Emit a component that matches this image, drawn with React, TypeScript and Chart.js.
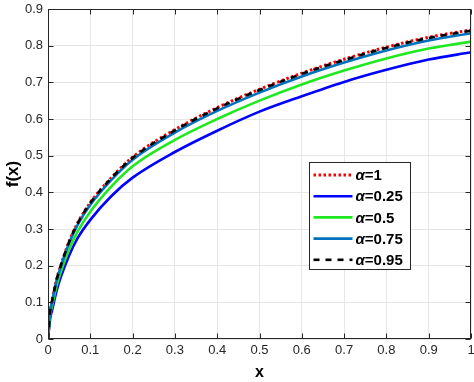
import React, { useEffect, useRef } from "react";
import { Chart, registerables } from "chart.js";
Chart.register(...registerables);

const xValues = [0, 0.005, 0.01, 0.02, 0.03, 0.05, 0.07, 0.1, 0.15, 0.2, 0.3, 0.4, 0.5, 0.6, 0.7, 0.8, 0.9, 1];
const alpha1 = [0, 0.075, 0.107, 0.161, 0.2, 0.266, 0.316, 0.372, 0.44, 0.496, 0.571, 0.631, 0.681, 0.725, 0.763, 0.796, 0.823, 0.843];
const alpha025 = [0, 0.055, 0.08, 0.13, 0.168, 0.228, 0.275, 0.325, 0.39, 0.44, 0.51, 0.568, 0.62, 0.662, 0.701, 0.734, 0.762, 0.782];
const alpha05 = [0, 0.065, 0.092, 0.143, 0.182, 0.245, 0.293, 0.347, 0.416, 0.471, 0.543, 0.6, 0.65, 0.694, 0.732, 0.765, 0.792, 0.811];
const alpha075 = [0, 0.073, 0.104, 0.158, 0.197, 0.262, 0.311, 0.366, 0.434, 0.489, 0.563, 0.622, 0.672, 0.716, 0.754, 0.787, 0.814, 0.834];
const alpha095 = [0, 0.075, 0.106, 0.16, 0.199, 0.265, 0.315, 0.371, 0.439, 0.494, 0.569, 0.629, 0.679, 0.723, 0.761, 0.794, 0.821, 0.841];

const seriesLabels = ["α=1", "α=0.25", "α=0.5", "α=0.75", "α=0.95"];
const xTicks = [0, 0.1, 0.2, 0.3, 0.4, 0.5, 0.6, 0.7, 0.8, 0.9, 1];
const xTickLabels = ["0", "0.1", "0.2", "0.3", "0.4", "0.5", "0.6", "0.7", "0.8", "0.9", "1"];
const yTicks = [0, 0.1, 0.2, 0.3, 0.4, 0.5, 0.6, 0.7, 0.8, 0.9];
const yTickLabels = ["0", "0.1", "0.2", "0.3", "0.4", "0.5", "0.6", "0.7", "0.8", "0.9"];

const FONT = '"Liberation Sans", Arial, Helvetica, sans-serif';
const AXIS = "#262626";

const toPoints = (ys: number[]) => xValues.map((x, i) => ({ x, y: ys[i] }));

const zeroPad = (s: any) => {
  s.paddingTop = 0;
  s.paddingBottom = 0;
  s.paddingLeft = 0;
  s.paddingRight = 0;
};

const boxPlugin = {
  id: "matlabBox",
  afterDraw(chart: any) {
    const { ctx, chartArea: a } = chart;
    ctx.save();
    ctx.strokeStyle = AXIS;
    ctx.lineWidth = 1;
    const L = Math.round(a.left) + 0.5, R = Math.round(a.right) - 0.5;
    const T = Math.round(a.top) + 0.5, B = Math.round(a.bottom) - 0.5;
    ctx.strokeRect(L, T, R - L, B - T);
    const tl = 5;
    ctx.beginPath();
    xTicks.forEach((v) => {
      const px = Math.round(chart.scales.x.getPixelForValue(v)) + 0.5;
      ctx.moveTo(px, B); ctx.lineTo(px, B - tl);
      ctx.moveTo(px, T); ctx.lineTo(px, T + tl);
    });
    yTicks.forEach((v) => {
      const py = Math.round(chart.scales.y.getPixelForValue(v)) + 0.5;
      ctx.moveTo(L, py); ctx.lineTo(L + tl, py);
      ctx.moveTo(R, py); ctx.lineTo(R - tl, py);
    });
    ctx.stroke();
    ctx.restore();
  },
};

const legendPlugin = {
  id: "boxLegend",
  afterDraw(chart: any) {
    const { ctx, chartArea: a } = chart;
    const w = a.right - a.left, h = a.bottom - a.top;
    const bx = Math.round(a.left + 0.617 * w) + 0.5;
    const by = Math.round(a.top + 0.464 * h) + 0.5;
    const bw = Math.round(0.239 * w);
    const bh = Math.round(0.324 * h);
    ctx.save();
    ctx.fillStyle = "#ffffff";
    ctx.fillRect(bx, by, bw, bh);
    ctx.strokeStyle = AXIS;
    ctx.lineWidth = 1;
    ctx.strokeRect(bx, by, bw, bh);
    chart.data.datasets.forEach((ds: any, i: number) => {
      const cy = by + 12.5 + i * 21.2;
      ctx.save();
      ctx.strokeStyle = ds.borderColor;
      ctx.lineWidth = ds.borderWidth;
      ctx.setLineDash(ds.borderDash || []);
      ctx.lineCap = "butt";
      ctx.beginPath();
      ctx.moveTo(bx + 4, cy);
      ctx.lineTo(bx + 43, cy);
      ctx.stroke();
      ctx.restore();
      const label: string = ds.label;
      ctx.fillStyle = "#000";
      ctx.textBaseline = "middle";
      ctx.textAlign = "left";
      ctx.font = `italic bold 15px ${FONT}`;
      const first = label.charAt(0);
      ctx.fillText(first, bx + 46, cy + 1);
      const fw = ctx.measureText(first).width;
      ctx.font = `bold 15px ${FONT}`;
      ctx.fillText(label.slice(1), bx + 46 + fw, cy + 1);
    });
    ctx.restore();
  },
};

export default function App() {
  const ref = useRef<HTMLCanvasElement | null>(null);
  useEffect(() => {
    document.body.style.margin = "0";
    const canvas = ref.current;
    if (!canvas) return;
    const chart = new Chart(canvas, {
      type: "line",
      data: {
        datasets: [
          { label: seriesLabels[0], data: toPoints(alpha1), borderColor: "#ff0000", borderWidth: 3, borderDash: [2.5, 2.5], order: 5 },
          { label: seriesLabels[1], data: toPoints(alpha025), borderColor: "#0000ff", borderWidth: 2.6, order: 4 },
          { label: seriesLabels[2], data: toPoints(alpha05), borderColor: "#1ee81e", borderWidth: 2.6, order: 3 },
          { label: seriesLabels[3], data: toPoints(alpha075), borderColor: "#0072bd", borderWidth: 2.6, order: 2 },
          { label: seriesLabels[4], data: toPoints(alpha095), borderColor: "#000000", borderWidth: 2.6, borderDash: [6, 6], order: 1 },
        ].map((d) => ({ ...d, pointRadius: 0, fill: false, cubicInterpolationMode: "monotone" as const, borderCapStyle: "butt" as const })),
      },
      options: {
        responsive: false,
        animation: false,
        layout: { padding: { left: 0, right: 3, top: 9, bottom: 0 } },
        plugins: { legend: { display: false }, tooltip: { enabled: false } },
        scales: {
          x: {
            type: "linear",
            min: 0,
            max: 1,
            afterBuildTicks: (s: any) => { s.ticks = xTicks.map((v) => ({ value: v })); },
            afterFit: (s: any) => { s.height = 43; zeroPad(s); },
            ticks: {
              callback: (v: any) => xTickLabels[xTicks.indexOf(Number(v))] ?? "",
              font: { size: 13, family: FONT },
              color: AXIS,
              padding: 4,
              maxRotation: 0,
            },
            grid: { color: "#e6e6e6", drawTicks: false },
            border: { display: false },
            title: { display: true, text: "x", font: { size: 16, weight: "bold", family: FONT }, color: "#000", padding: { top: 0, bottom: 0 } },
          },
          y: {
            type: "linear",
            min: 0,
            max: 0.9,
            afterBuildTicks: (s: any) => { s.ticks = yTicks.map((v) => ({ value: v })); },
            afterFit: (s: any) => { s.width = 48; zeroPad(s); },
            ticks: {
              callback: (v: any) => yTickLabels[yTicks.findIndex((t) => Math.abs(t - Number(v)) < 1e-9)] ?? "",
              font: { size: 13, family: FONT },
              color: AXIS,
              padding: 5,
            },
            grid: { color: "#e6e6e6", drawTicks: false },
            border: { display: false },
            title: { display: true, text: "f(x)", font: { size: 17, weight: "bold", family: FONT }, color: "#000", padding: { top: 3, bottom: 0 } },
          },
        },
      },
      plugins: [boxPlugin, legendPlugin],
    });
    return () => chart.destroy();
  }, []);
  return (
    <div style={{ width: 474, height: 382 }}>
      <canvas ref={ref} width={474} height={382} />
    </div>
  );
}
